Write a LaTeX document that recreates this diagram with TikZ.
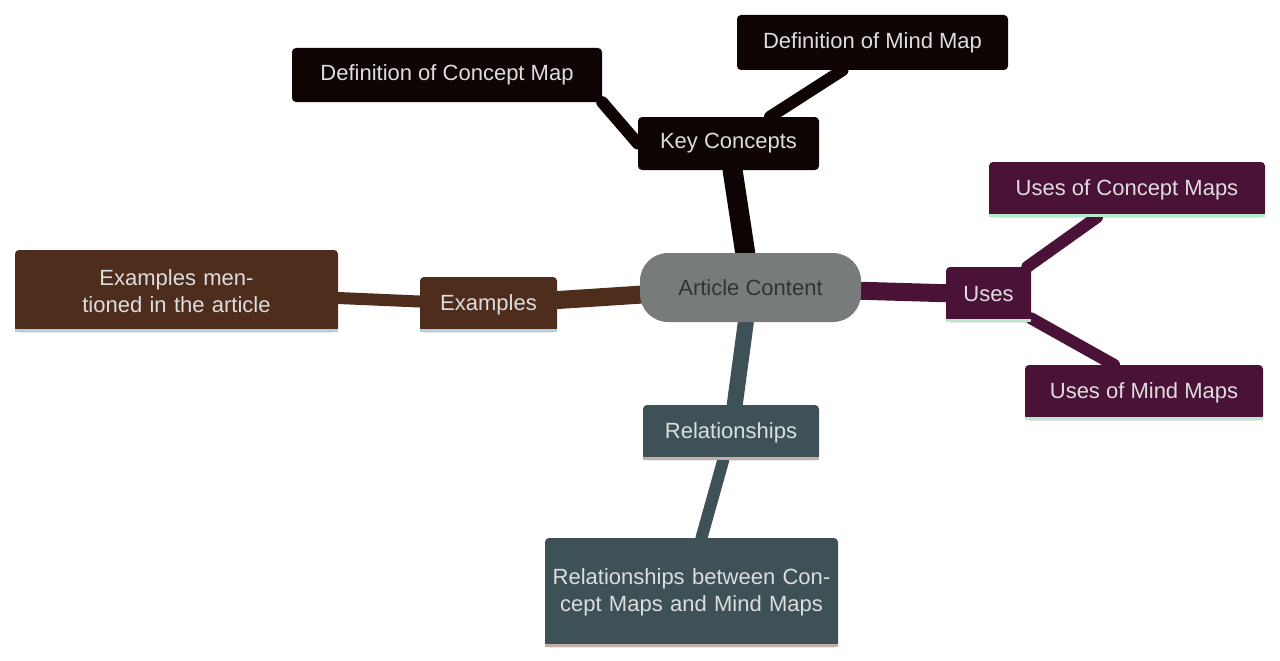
\documentclass[tikz,border=0pt]{standalone}
\usepackage{fontspec}
\setmainfont{Liberation Sans}
\usetikzlibrary{backgrounds}
\definecolor{kc}{HTML}{0E0404}
\definecolor{us}{HTML}{4B1238}
\definecolor{ex}{HTML}{4F2D1C}
\definecolor{re}{HTML}{3E5157}
\definecolor{ce}{HTML}{777B7C}
\definecolor{txt}{HTML}{DDDDDD}
\definecolor{gr}{HTML}{B5EBCB}
\definecolor{bl}{HTML}{AFCFE3}
\definecolor{tan}{HTML}{C4AFA5}
\begin{document}
\begin{tikzpicture}[x=1pt,y=-1pt,
  box/.style={rectangle,rounded corners=4pt,text=txt,font=\fontsize{22}{27}\selectfont,inner sep=0pt,align=center},
  edge/.style={line cap=round}]
\useasboundingbox (0,0) rectangle (1280,661);
\node[box,fill=ce,rounded corners=28pt,text=black!80,minimum width=221pt,minimum height=69pt] (c) at (750.5,287.5) {Article Content};
\node[box,fill=kc,minimum width=181pt,minimum height=53pt] (k) at (728.5,143.5) {Key Concepts};
\node[box,fill=kc,minimum width=310pt,minimum height=54pt] (dc) at (447,75) {Definition of Concept Map};
\node[box,fill=kc,minimum width=271pt,minimum height=55pt] (dm) at (872.5,42.5) {Definition of Mind Map};
\node[box,fill=us,minimum width=85pt,minimum height=55pt] (u) at (988.5,294.5) {Uses};
\node[box,fill=us,minimum width=276pt,minimum height=55pt] (uc) at (1127,189.5) {Uses of Concept Maps};
\node[box,fill=us,minimum width=238pt,minimum height=55pt] (um) at (1144,392.5) {Uses of Mind Maps};
\node[box,fill=ex,minimum width=137pt,minimum height=55pt] (e) at (488.5,304.5) {Examples};
\node[box,fill=ex,minimum width=323pt,minimum height=82pt,text width=310pt] (em) at (176.5,291) {Examples mentioned in the article};
\node[box,fill=re,minimum width=176pt,minimum height=55pt] (r) at (731,432.5) {Relationships};
\node[box,fill=re,minimum width=293pt,minimum height=109pt,text width=280pt] (rb) at (691.5,592.5) {Relationships between Concept Maps and Mind Maps};
\foreach \n/\col in {u/gr,uc/gr,um/gr,e/bl,em/bl,r/tan,rb/tan}{
  \draw[\col,line width=3pt] ([yshift=1.5pt]\n.south west) -- ([yshift=1.5pt]\n.south east);}
\begin{scope}[on background layer]
\draw[edge,kc,line width=20pt] (c) -- (k);
\draw[edge,kc,line width=12pt] (k.west) -- (dc.south east);
\draw[edge,kc,line width=12pt] (k) -- ([xshift=-30pt]dm.south);
\draw[edge,us,line width=18pt] (c) -- (u);
\draw[edge,us,line width=12pt] (u) -- ([xshift=-30pt]uc.south);
\draw[edge,us,line width=12pt] (u) -- ([xshift=-30pt]um.north);
\draw[edge,ex,line width=18pt] (c) -- (e);
\draw[edge,ex,line width=12pt] (e) -- (em);
\draw[edge,re,line width=16pt] (c) -- (r);
\draw[edge,re,line width=12pt] (r) -- ([xshift=10pt]rb.north);
\end{scope}
\end{tikzpicture}
\end{document}
